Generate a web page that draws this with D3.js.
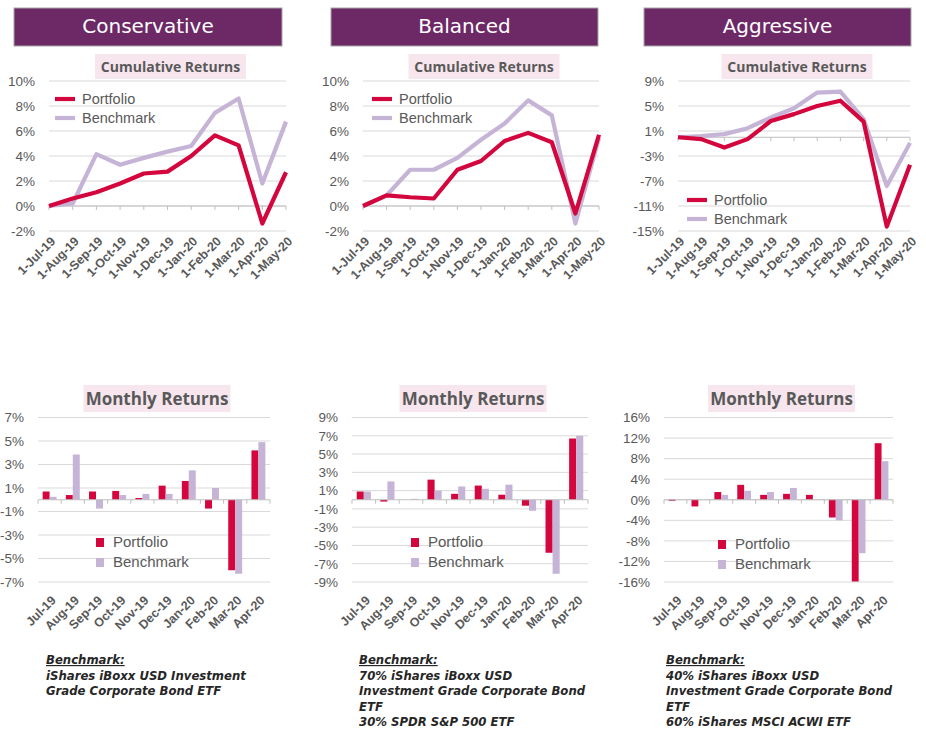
<!DOCTYPE html>
<html>
<head>
<meta charset="utf-8">
<script src="https://cdn.jsdelivr.net/npm/d3@7"></script>
<style>
  body { margin: 0; background: #fff; }
  svg { display: block; font-family: "Liberation Sans", Arial, sans-serif; }
</style>
</head>
<body>
<svg id="chart" width="926" height="740"></svg>
<script>
// ---- data ----
var profiles = ["Conservative", "Balanced", "Aggressive"];
var cumDates = ["1-Jul-19", "1-Aug-19", "1-Sep-19", "1-Oct-19", "1-Nov-19", "1-Dec-19",
                "1-Jan-20", "1-Feb-20", "1-Mar-20", "1-Apr-20", "1-May-20"];
var months = ["Jul-19", "Aug-19", "Sep-19", "Oct-19", "Nov-19", "Dec-19",
              "Jan-20", "Feb-20", "Mar-20", "Apr-20"];

// cumulative returns (%)
var consCumPortfolio = [0, 0.6, 1.1, 1.8, 2.6, 2.75, 4.0, 5.65, 4.85, -1.4, 2.7];
var consCumBenchmark = [0, 0.2, 4.15, 3.3, 3.85, 4.35, 4.8, 7.45, 8.6, 1.8, 6.75];
var balCumPortfolio = [0, 0.85, 0.7, 0.6, 2.9, 3.6, 5.2, 5.85, 5.1, -0.6, 5.7];
var balCumBenchmark = [0, 0.85, 2.9, 2.9, 3.85, 5.3, 6.6, 8.45, 7.25, -1.4, 5.45];
var aggCumPortfolio = [0, -0.3, -1.65, -0.3, 2.6, 3.7, 5.0, 5.85, 2.5, -14.3, -4.4];
var aggCumBenchmark = [0, 0.2, 0.5, 1.45, 3.15, 4.65, 7.15, 7.3, 2.9, -7.8, -0.9];

// monthly returns (%)
var consMonPortfolio = [0.7, 0.4, 0.7, 0.75, 0.15, 1.2, 1.6, -0.75, -6.0, 4.2];
var consMonBenchmark = [0.25, 3.85, -0.75, 0.4, 0.5, 0.5, 2.5, 1.0, -6.3, 4.9];
var balMonPortfolio = [0.9, -0.2, 0, 2.2, 0.65, 1.55, 0.55, -0.65, -5.8, 6.7];
var balMonBenchmark = [0.9, 2.0, 0.1, 1.0, 1.45, 1.2, 1.65, -1.2, -8.1, 7.0];
var aggMonPortfolio = [-0.2, -1.3, 1.5, 2.9, 0.95, 1.15, 0.95, -3.45, -15.9, 11.0];
var aggMonBenchmark = [0, 0, 0.95, 1.75, 1.5, 2.3, 0, -4.0, -10.4, 7.5];

var consTicksCum = [-2, 0, 2, 4, 6, 8, 10];
var aggTicksCum = [-15, -11, -7, -3, 1, 5, 9];
var consTicksMon = [-7, -5, -3, -1, 1, 3, 5, 7];
var balTicksMon = [-9, -7, -5, -3, -1, 1, 3, 5, 7, 9];
var aggTicksMon = [-16, -12, -8, -4, 0, 4, 8, 12, 16];

var benchmarkNotes = [
  ["iShares iBoxx USD Investment", "Grade Corporate Bond ETF"],
  ["70% iShares iBoxx USD", "Investment Grade Corporate Bond", "ETF", "30% SPDR S&P 500 ETF"],
  ["40% iShares iBoxx USD", "Investment Grade Corporate Bond", "ETF", "60% iShares MSCI ACWI ETF"]
];

var seriesNames = ["Portfolio", "Benchmark"];
var colors = ["#D3063D", "#C5B4D6"];
var textGray = "#595959";

var svg = d3.select("#chart");

// ---- header boxes ----
var headerBoxes = [[14, 282], [331, 598], [644, 911]];
profiles.forEach(function(name, i) {
  var b = headerBoxes[i];
  svg.append("rect").attr("x", b[0]).attr("y", 8).attr("width", b[1] - b[0]).attr("height", 38)
    .attr("fill", "#6D2866").attr("stroke", "#A6A6A6").attr("stroke-width", 1);
  svg.append("text").attr("x", (b[0] + b[1]) / 2).attr("y", 33).attr("text-anchor", "middle")
    .attr("fill", "#fff").style("font-family", "'DejaVu Sans', sans-serif").style("font-size", "20px")
    .text(name);
});

function chartTitle(cx, y, w, h, label, size) {
  svg.append("rect").attr("x", cx - w / 2).attr("y", y).attr("width", w).attr("height", h).attr("fill", "#F7E6EE");
  svg.append("text").attr("x", cx).attr("y", y + h / 2).attr("dy", "0.36em").attr("text-anchor", "middle")
    .attr("fill", textGray).style("font-family", "'Open Sans', sans-serif").style("font-weight", "bold")
    .style("font-size", size + "px").text(label);
}

function yGrid(g, y, ticks, x0, x1, size) {
  g.selectAll(".grid").data(ticks).enter().append("line")
    .attr("x1", x0).attr("x2", x1).attr("y1", function(d) { return y(d); }).attr("y2", function(d) { return y(d); })
    .attr("stroke", "#D9D9D9").attr("stroke-width", 1);
  var ax = g.append("g").attr("transform", "translate(" + (x0 - 14) + ",0)")
    .call(d3.axisLeft(y).tickValues(ticks).tickSize(0).tickFormat(function(d) { return d + "%"; }));
  ax.select(".domain").remove();
  ax.selectAll("text").attr("x", 0).attr("fill", textGray).style("font-size", size + "px")
    .style("font-family", "'Liberation Sans', Arial, sans-serif");
}

// ---- cumulative line charts ----
var cumPanels = [
  { x0: 49, x1: 286, domain: [-2, 10], ticks: consTicksCum, p: consCumPortfolio, b: consCumBenchmark, leg: [55, 99] },
  { x0: 363, x1: 599, domain: [-2, 10], ticks: consTicksCum, p: balCumPortfolio, b: balCumBenchmark, leg: [372, 99] },
  { x0: 678, x1: 910, domain: [-15, 9], ticks: aggTicksCum, p: aggCumPortfolio, b: aggCumBenchmark, leg: [687, 200] }
];

cumPanels.forEach(function(c) {
  var g = svg.append("g");
  chartTitle((c.x0 + c.x1) / 2 + 3, 54, 151, 25, "Cumulative Returns", 14);
  var x = d3.scalePoint().domain(cumDates).range([c.x0, c.x1]);
  var y = d3.scaleLinear().domain(c.domain).range([231, 81]);
  yGrid(g, y, c.ticks, c.x0, c.x1, 13.5);

  // axis at zero with ticks hanging down
  g.append("line").attr("x1", c.x0).attr("x2", c.x1).attr("y1", y(0)).attr("y2", y(0)).attr("stroke", "#BFBFBF");
  g.selectAll(".tk").data(cumDates).enter().append("line")
    .attr("x1", function(d) { return x(d); }).attr("x2", function(d) { return x(d); })
    .attr("y1", y(0)).attr("y2", y(0) + 4).attr("stroke", "#BFBFBF");

  g.selectAll(".xl").data(cumDates).enter().append("text")
    .attr("transform", function(d) { return "translate(" + (x(d) + 4) + ",239) rotate(-45)"; })
    .attr("text-anchor", "end").attr("dy", "0.35em")
    .attr("fill", textGray).style("font-size", "12.5px").style("font-weight", "bold").text(function(d) { return d; });

  var line = d3.line().x(function(d, i) { return x(cumDates[i]); }).y(function(d) { return y(d); });
  [c.b, c.p].forEach(function(vals, k) {
    g.append("path").datum(vals).attr("d", line).attr("fill", "none")
      .attr("stroke", k === 0 ? colors[1] : colors[0]).attr("stroke-width", 4.2).attr("stroke-linejoin", "round");
  });

  seriesNames.forEach(function(s, k) {
    var ly = c.leg[1] + k * 19;
    g.append("line").attr("x1", c.leg[0]).attr("x2", c.leg[0] + 20).attr("y1", ly).attr("y2", ly)
      .attr("stroke", colors[k]).attr("stroke-width", 4.2);
    g.append("text").attr("x", c.leg[0] + 27).attr("y", ly).attr("dy", "0.35em")
      .attr("fill", textGray).style("font-size", "14.5px").text(s);
  });
});

// ---- monthly bar charts ----
var monPanels = [
  { x0: 38, x1: 270, domain: [-7, 7], ticks: consTicksMon, p: consMonPortfolio, b: consMonBenchmark, leg: [96, 542] },
  { x0: 352, x1: 588, domain: [-9, 9], ticks: balTicksMon, p: balMonPortfolio, b: balMonBenchmark, leg: [411, 542] },
  { x0: 664, x1: 893, domain: [-16, 16], ticks: aggTicksMon, p: aggMonPortfolio, b: aggMonBenchmark, leg: [718, 544] }
];

monPanels.forEach(function(c) {
  var g = svg.append("g");
  chartTitle((c.x0 + c.x1) / 2 + 3, 385, 147, 27, "Monthly Returns", 17);
  var x0 = d3.scaleBand().domain(months).range([c.x0, c.x1]);
  var x1 = d3.scaleBand().domain(seriesNames).range([x0.bandwidth() * 0.2, x0.bandwidth() * 0.8]);
  var y = d3.scaleLinear().domain(c.domain).range([582, 417.5]);
  yGrid(g, y, c.ticks, c.x0, c.x1, 13.5);

  months.forEach(function(m, i) {
    [c.p[i], c.b[i]].forEach(function(v, k) {
      g.append("rect").attr("x", x0(m) + x1(seriesNames[k])).attr("width", x1.bandwidth())
        .attr("y", y(Math.max(0, v))).attr("height", Math.abs(y(v) - y(0)))
        .attr("fill", colors[k]);
    });
  });

  g.append("line").attr("x1", c.x0).attr("x2", c.x1).attr("y1", y(0)).attr("y2", y(0)).attr("stroke", "#BFBFBF");
  var edges = months.map(function(m) { return x0(m); }).concat([c.x1]);
  g.selectAll(".tk").data(edges).enter().append("line")
    .attr("x1", function(d) { return d; }).attr("x2", function(d) { return d; })
    .attr("y1", y(0)).attr("y2", y(0) + 4).attr("stroke", "#BFBFBF");

  g.selectAll(".xl").data(months).enter().append("text")
    .attr("transform", function(d) { return "translate(" + (x0(d) + x0.bandwidth() / 2 + 4) + ",598) rotate(-45)"; })
    .attr("text-anchor", "end").attr("dy", "0.35em")
    .attr("fill", textGray).style("font-size", "12.5px").style("font-weight", "bold").text(function(d) { return d; });

  seriesNames.forEach(function(s, k) {
    var ly = c.leg[1] + k * 20;
    g.append("rect").attr("x", c.leg[0]).attr("y", ly - 4).attr("width", 8).attr("height", 9).attr("fill", colors[k]);
    g.append("text").attr("x", c.leg[0] + 17).attr("y", ly).attr("dy", "0.35em")
      .attr("fill", textGray).style("font-size", "15px").text(s);
  });
});

// ---- benchmark notes ----
var noteX = [46, 359, 666];
benchmarkNotes.forEach(function(lines, i) {
  var t = svg.append("text").attr("x", noteX[i]).attr("y", 664)
    .style("font-family", "'DejaVu Sans', sans-serif").style("font-size", "11.7px")
    .style("font-weight", "bold").style("font-style", "italic").attr("fill", "#262626");
  t.append("tspan").attr("x", noteX[i]).attr("dy", 0).style("text-decoration", "underline").text("Benchmark:");
  lines.forEach(function(l) {
    t.append("tspan").attr("x", noteX[i]).attr("dy", 15.6).text(l);
  });
});
</script>
</body>
</html>
